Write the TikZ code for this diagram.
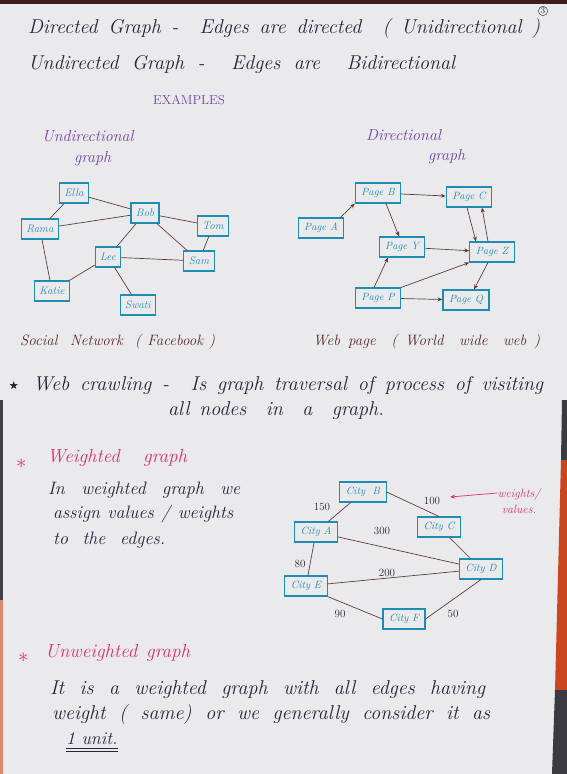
\documentclass[tikz,border=0pt]{standalone}
\usepackage{amssymb}
\usetikzlibrary{arrows.meta}
\definecolor{paper}{HTML}{EAEAEC}
\definecolor{ink}{HTML}{23233A}
\definecolor{purp}{HTML}{7440A8}
\definecolor{boxc}{HTML}{1F8CB3}
\definecolor{edgec}{HTML}{5E3C3A}
\definecolor{pinkc}{HTML}{D6336A}
\definecolor{brownc}{HTML}{5A2626}
\definecolor{bgorange}{HTML}{C9461F}
\definecolor{bgdark}{HTML}{3A3A40}
\newcommand{\spreadline}[2]{\makebox[#1][s]{#2}}
\tikzset{
  txt/.style={anchor=base west, inner sep=0pt, text=ink, font=\itshape\fontsize{20}{22}\selectfont},
  midtxt/.style={txt, font=\itshape\fontsize{18}{20}\selectfont},
  bigtxt/.style={txt, font=\itshape\fontsize{20}{22}\selectfont},
  ptxt/.style={txt, text=purp, font=\itshape\fontsize{16}{18}\selectfont},
  pinktxt/.style={txt, text=pinkc, font=\itshape\fontsize{19}{20}\selectfont},
  captxt/.style={txt, text=brownc, font=\itshape\fontsize{15}{16}\selectfont},
  gbox/.style={draw=boxc, line width=1.1pt, text=boxc, font=\itshape\fontsize{11}{12}\selectfont,
    minimum height=20pt, inner xsep=5pt, inner ysep=2pt},
  pbox/.style={gbox, font=\itshape\fontsize{10.5}{12}\selectfont, inner xsep=6pt},
  cbox/.style={gbox, font=\itshape\fontsize{10.5}{12}\selectfont, inner xsep=6pt},
  edge/.style={draw=edgec, line width=0.7pt},
  arr/.style={edge, -{Stealth[length=5pt,width=4pt]}},
  wt/.style={inner sep=0pt, text=ink, font=\fontsize{11}{12}\selectfont},
  astk/.style={inner sep=0pt, text=pinkc, font=\fontsize{22}{22}\selectfont},
}
\begin{document}
\begin{tikzpicture}[x=1pt,y=-1pt]
\useasboundingbox (0,0) rectangle (567,774);
% paper and surroundings
\fill[paper] (0,0) rectangle (567,774);
\fill[brownc!70!black] (0,0) rectangle (567,4);
\fill[bgdark] (562,400) -- (567,400) -- (567,460) -- (561,460) -- cycle;
\fill[bgorange] (561,460) -- (567,460) -- (567,690) -- (555,690) -- cycle;
\fill[bgdark] (555,690) -- (567,690) -- (567,774) -- (552,774) -- cycle;
\fill[black!75] (0,400) rectangle (3,600);
\fill[bgorange!60!paper] (0,600) rectangle (3,774);
% page number
\node[draw=ink, circle, inner sep=0.6pt, font=\fontsize{9}{9}\selectfont, text=ink] (pgno) at (543,11) {3};
% definitions
\node[bigtxt] (l1) at (28,33) {\spreadline{512pt}{Directed Graph - \ Edges are directed \ ( Unidirectional )}};
\node[bigtxt] (l2) at (28,69) {\spreadline{427pt}{Undirected Graph - \ Edges are \ Bidirectional}};
\node[anchor=base, inner sep=0pt, text=purp, font=\fontsize{13}{14}\selectfont] (ex) at (189,104) {EXAMPLES};
% ---------- undirected graph ----------
\node[ptxt] (ut1) at (42,141) {\spreadline{95pt}{Undirectional}};
\node[ptxt] (ut2) at (74,162) {graph};
\node[gbox] (ella) at (74,193) {Ella};
\node[gbox] (bob) at (145,213) {Bob};
\node[gbox] (rama) at (40,229) {Rama};
\node[gbox] (tom) at (213,226) {Tom};
\node[gbox] (lee) at (108,257) {Lee};
\node[gbox] (sam) at (199,261) {Sam};
\node[gbox] (katie) at (52,291) {Katie};
\node[gbox] (swati) at (138,305) {Swati};
\draw[edge] (ella) -- (rama);
\draw[edge] (ella) -- (bob);
\draw[edge] (rama) -- (bob);
\draw[edge] (rama) -- (katie);
\draw[edge] (bob) -- (lee);
\draw[edge] (bob) -- (tom);
\draw[edge] (bob) -- (sam);
\draw[edge] (tom) -- (sam);
\draw[edge] (lee) -- (sam);
\draw[edge] (lee) -- (katie);
\draw[edge] (lee) -- (swati);
\node[captxt] (cap1) at (20,345) {\spreadline{195pt}{Social \ Network \ ( Facebook )}};
% ---------- directed graph ----------
\node[ptxt] (dt1) at (366,140) {\spreadline{89pt}{Directional}};
\node[ptxt] (dt2) at (428,160) {graph};
\node[pbox] (pb) at (378,193) {Page B};
\node[pbox] (pc) at (469,197) {Page C};
\node[pbox] (pa) at (321,228) {Page A};
\node[pbox] (py) at (402,247) {Page Y};
\node[pbox] (pz) at (492,252) {Page Z};
\node[pbox] (pp) at (378,298) {Page P};
\node[pbox] (pq) at (466,300) {Page Q};
\draw[arr] (pa.north east) ++(-4,0) coordinate (paout) -- (pb.south west);
\draw[arr] (pb) -- (pc);
\draw[arr] ([xshift=8pt]pb.south) -- ([xshift=-3pt]py.north);
\draw[arr] ([xshift=-2pt]pc.south) -- ([xshift=-16pt]pz.north);
\draw[arr] ([xshift=-4pt]pz.north) -- ([xshift=13pt]pc.south);
\draw[arr] (py) -- (pz);
\draw[arr] ([xshift=-4pt]pp.north) -- ([xshift=-14pt]py.south);
\draw[arr] (pp.north east) -- (pz.south west);
\draw[arr] (pp) -- (pq);
\draw[arr] ([xshift=-4pt]pz.south) -- ([xshift=8pt]pq.north);
\node[captxt] (cap2) at (313,345) {\spreadline{227pt}{Web page \ ( World \ wide \ web )}};
% ---------- web crawling ----------
\node[anchor=base west, inner sep=0pt, text=ink, font=\fontsize{10}{10}\selectfont] (star) at (9,388) {$\bigstar$};
\node[txt] (wc1) at (33,390) {\spreadline{510pt}{Web crawling - \ Is graph traversal of process of visiting}};
\node[txt] (wc2) at (168,415) {\spreadline{216pt}{all nodes \ in \ a \ graph.}};
% ---------- weighted graph ----------
\node[astk, anchor=base west] (ast1) at (16,468) {$\ast$};
\node[pinktxt] (wg) at (47,462) {\spreadline{140pt}{Weighted \ graph}};
\node[midtxt] (wg1) at (48,494) {\spreadline{192pt}{In weighted graph we}};
\node[midtxt] (wg2) at (53,518) {\spreadline{180pt}{assign values / weights}};
\node[midtxt] (wg3) at (53,544) {\spreadline{112pt}{to \ the \ edges.}};
\node[cbox] (cb) at (363,492) {City \ B};
\node[cbox] (ca) at (316,532) {City A};
\node[cbox] (cc) at (439,527) {City C};
\node[cbox] (cd) at (481,569) {City D};
\node[cbox] (ce) at (306,586) {City E};
\node[cbox] (cf) at (404,619) {City F};
\draw[edge] (cb) -- (ca);
\draw[edge] (cb.east) -- (cc.north);
\draw[edge] (ca) -- (cd);
\draw[edge] (cc) -- (cd);
\draw[edge] (ca) -- (ce);
\draw[edge] (ce) -- (cd);
\draw[edge] (ce.south east) -- (cf.west);
\draw[edge] (cf.east) -- (cd.south);
\node[wt] (w150) at (322,507) {150};
\node[wt] (w100) at (432,501) {100};
\node[wt] (w300) at (382,531) {300};
\node[wt] (w80) at (300,564) {80};
\node[wt] (w200) at (387,573) {200};
\node[wt] (w90) at (340,614) {90};
\node[wt] (w50) at (453,614) {50};
\node[align=center, inner sep=0pt, text=pinkc, font=\itshape\fontsize{12}{16}\selectfont] (wv) at (519,501) {weights/\\values.};
\coordinate (wtip) at (450,497);
\draw[pinkc, line width=0.7pt, -{Stealth[length=5pt,width=4pt]}] (wv.west) ++(0,-8) -- (wtip);
% ---------- unweighted graph ----------
\node[astk, anchor=base west] (ast2) at (18,662) {$\ast$};
\node[pinktxt] (ug) at (45,657) {\spreadline{145pt}{Unweighted \ graph}};
\node[txt] (ug1) at (50,694) {\spreadline{435pt}{It is a weighted graph with all edges having}};
\node[txt] (ug2) at (52,719) {\spreadline{438pt}{weight ( same) or we generally consider it as}};
\node[midtxt] (ug3) at (66,744) {1 unit.};
\draw[ink, line width=0.6pt] (ug3.base west) ++(0,4) -- ++(52,0);
\draw[ink, line width=0.6pt] (ug3.base west) ++(0,7) -- ++(52,0);
\end{tikzpicture}
\end{document}
